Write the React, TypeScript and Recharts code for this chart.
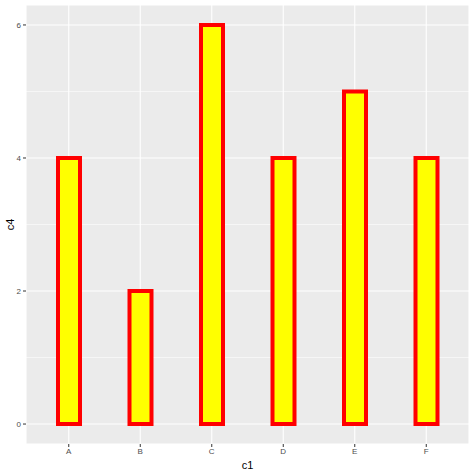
import React from "react";
import { BarChart, Bar, XAxis, YAxis, CartesianGrid } from "recharts";

const categories = ["A", "B", "C", "D", "E", "F"];
const values = [4, 2, 6, 4, 5, 4];
const majorTicks = [0, 2, 4, 6];
const minorTicks = [1, 3, 5];

const data = categories.map((c, i) => ({ c1: c, c4: values[i] }));

const FONT = "'Liberation Sans', Arial, sans-serif";

const minorGen = (props: any) => {
  const yAxis = props && props.yAxis;
  const scale = yAxis && yAxis.scale;
  if (!scale) return [];
  const fn = typeof scale === "function" ? scale : scale.map ? (v: number) => scale.map(v) : null;
  if (!fn) return [];
  return minorTicks.map((t) => fn(t));
};

const YTitle = (props: any) => {
  const vb = props.viewBox || { x: 0, y: 0, width: 26, height: 440 };
  const cx = 10;
  const cy = vb.y + vb.height / 2;
  return (
    <text
      x={cx}
      y={cy}
      transform={`rotate(-90 ${cx} ${cy})`}
      textAnchor="middle"
      dominantBaseline="central"
      fill="#000"
      fontSize={11}
      fontFamily={FONT}
    >
      c4
    </text>
  );
};

export default function App() {
  return (
    <div style={{ position: "absolute", left: 0, top: 0, width: 474, height: 474, background: "#fff" }}>
      <BarChart
        width={474}
        height={474}
        data={data}
        margin={{ top: 5, right: 5, bottom: 0, left: 0 }}
        barCategoryGap={0}
      >
        <CartesianGrid
          fill="#EBEBEB"
          stroke="#FFFFFF"
          strokeWidth={1.1}
          horizontal={true}
          vertical={true}
        />
        <CartesianGrid
          stroke="#FFFFFF"
          strokeWidth={0.55}
          vertical={false}
          fill="none"
          horizontalCoordinatesGenerator={minorGen}
        />
        <XAxis
          dataKey="c1"
          type="category"
          padding={{ left: 7, right: 7 }}
          height={30}
          tickSize={3}
          tickMargin={1}
          tickLine={{ stroke: "#333333", strokeWidth: 1 }}
          axisLine={false}
          tick={{ fill: "#4D4D4D", fontSize: 8, fontFamily: FONT }}
          label={{ value: "c1", position: "insideBottom", offset: 5, fill: "#000", fontSize: 11, fontFamily: FONT }}
        />
        <YAxis
          type="number"
          domain={[-0.3, 6.3]}
          ticks={majorTicks}
          width={26}
          tickSize={3}
          tickMargin={2}
          tickLine={{ stroke: "#333333", strokeWidth: 1 }}
          axisLine={false}
          tick={{ fill: "#4D4D4D", fontSize: 8, fontFamily: FONT }}
          label={<YTitle />}
        />
        <Bar
          dataKey="c4"
          barSize={22}
          fill="#FFFF00"
          stroke="#FF0000"
          strokeWidth={4}
          isAnimationActive={false}
        />
      </BarChart>
    </div>
  );
}
